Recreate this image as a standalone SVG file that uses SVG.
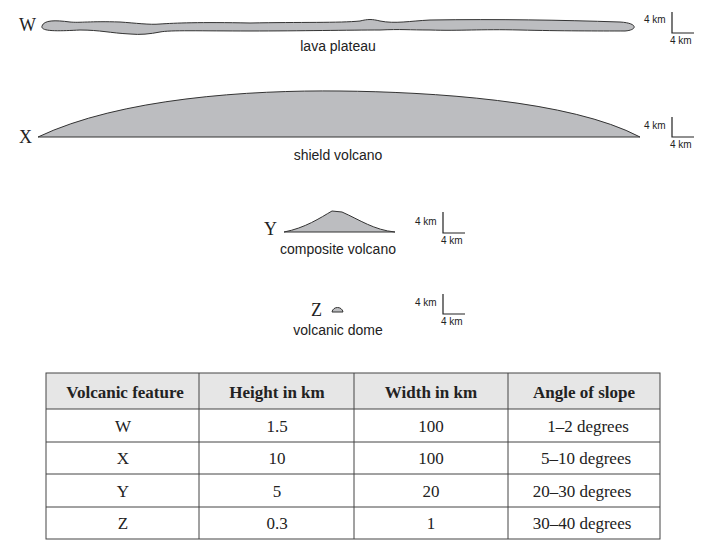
<svg xmlns="http://www.w3.org/2000/svg" width="716" height="549" viewBox="0 0 716 549">
<style>
.lbl{font-family:"Liberation Serif",serif;font-size:18px;fill:#222}
.cap{font-family:"Liberation Sans",sans-serif;font-size:14px;fill:#222;text-anchor:middle}
.km{font-family:"Liberation Sans",sans-serif;font-size:10px;fill:#222}
.shape{fill:#bcbdc0;stroke:#333;stroke-width:1}
.bar{fill:none;stroke:#222;stroke-width:1.2}
.th{font-family:"Liberation Serif",serif;font-size:17px;font-weight:bold;fill:#222;text-anchor:middle}
.td{font-family:"Liberation Serif",serif;font-size:17px;fill:#222;text-anchor:middle}
.grid{stroke:#444;stroke-width:1;fill:none}
</style>
<g id="W">
<text class="lbl" x="19" y="31">W</text>
<path class="shape" d="M42,26 C44,20 55,20 70,22 C80,23 90,21 120,22 C135,23 150,25 160,24 C175,23 200,22 250,23 C300,22 340,23 360,21 C368,19 372,19 380,21 C395,24 410,21 430,20 C500,19 560,20 620,22 C638,23 638,30 625,31 C600,31 560,31 520,30 C480,29 460,31 430,30 C410,30 400,29 380,30 C350,30 300,31 250,31 C200,31 170,30 160,32 C150,34 140,35 130,34 C110,33 100,30 80,30 C60,31 40,32 42,26 Z"/>
<text class="cap" x="338" y="51">lava plateau</text>
</g>
<g id="X">
<text class="lbl" x="19" y="143">X</text>
<path class="shape" d="M38,137 C120,98 250,90 340,91 C430,92 570,100 640,137 Z"/>
<text class="cap" x="338" y="160">shield volcano</text>
</g>
<g id="Y">
<text class="lbl" x="264" y="235">Y</text>
<path class="shape" d="M284,232 C305,228 320,218 332,211 L342,212 C360,220 374,230 395,232 Z"/>
<text class="cap" x="338" y="254">composite volcano</text>
</g>
<g id="Z">
<text class="lbl" x="311" y="316">Z</text>
<path class="shape" d="M332,312 C333,306 342,306 343,312 Z"/>
<text class="cap" x="338" y="335">volcanic dome</text>
</g>
<g id="scales">
<path class="bar" d="M672,12 V33 H694"/><text class="km" x="644" y="23">4 km</text><text class="km" x="670" y="44">4 km</text>
<path class="bar" d="M672,117 V137 H694"/><text class="km" x="644" y="129">4 km</text><text class="km" x="670" y="148">4 km</text>
<path class="bar" d="M443,212 V233 H465"/><text class="km" x="415" y="225">4 km</text><text class="km" x="441" y="244">4 km</text>
<path class="bar" d="M443,294 V314 H465"/><text class="km" x="415" y="306">4 km</text><text class="km" x="441" y="325">4 km</text>
</g>
<g id="table">
<rect x="46" y="373" width="614" height="36" fill="#e6e6e6"/>
<rect class="grid" x="46" y="373" width="614" height="166"/>
<path class="grid" d="M46,409 H660 M46,442 H660 M46,474 H660 M46,507 H660 M199,373 V539 M354,373 V539 M508,373 V539"/>
<text class="th" x="125" y="398">Volcanic feature</text><text class="th" x="277" y="398">Height in km</text><text class="th" x="431" y="398">Width in km</text><text class="th" x="584" y="398">Angle of slope</text>
<text class="td" x="123" y="432">W</text><text class="td" x="277" y="432">1.5</text><text class="td" x="431" y="432">100</text><text class="td" x="588" y="432">1–2 degrees</text>
<text class="td" x="123" y="464">X</text><text class="td" x="277" y="464">10</text><text class="td" x="431" y="464">100</text><text class="td" x="586" y="464">5–10 degrees</text>
<text class="td" x="123" y="497">Y</text><text class="td" x="277" y="497">5</text><text class="td" x="431" y="497">20</text><text class="td" x="582" y="497">20–30 degrees</text>
<text class="td" x="123" y="529">Z</text><text class="td" x="277" y="529">0.3</text><text class="td" x="431" y="529">1</text><text class="td" x="582" y="529">30–40 degrees</text>
</g>
</svg>
